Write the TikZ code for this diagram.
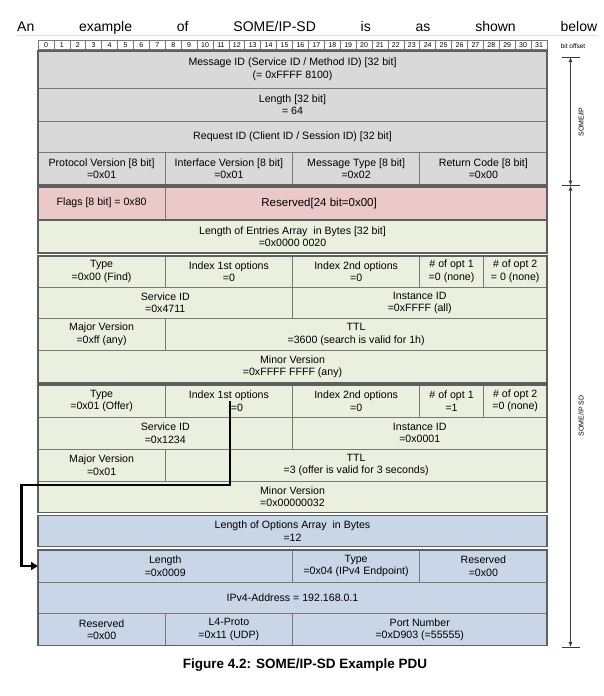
\documentclass[tikz,border=0pt]{standalone}
\usepackage{fontspec}
\setmainfont{Liberation Sans}
\usetikzlibrary{arrows.meta}
\definecolor{gfill}{RGB}{217,217,217}
\definecolor{pfill}{RGB}{236,201,201}
\definecolor{efill}{RGB}{235,240,222}
\definecolor{bfill}{RGB}{200,214,231}
\definecolor{cellline}{RGB}{120,120,120}
\definecolor{blockcol}{RGB}{95,95,95}
\definecolor{dimcol}{RGB}{60,60,60}
\tikzset{
  cellbase/.style={draw=cellline, line width=0.8pt, inner sep=0pt, outer sep=0pt,
    align=center, font=\fontsize{10.6}{12.5}\selectfont},
  bitcell/.style={draw=cellline, fill=white, line width=0.6pt, minimum width=15.906pt,
    minimum height=9.5pt, inner sep=0pt, outer sep=0pt, font=\fontsize{7}{8}\selectfont},
  blockline/.style={draw=blockcol, line width=1.4pt},
  linkarrow/.style={draw=black, line width=2.6pt, -{Triangle[length=7pt,width=8pt]}},
  dimline/.style={draw=dimcol, line width=0.8pt},
  dimarrow/.style={dimline, {Latex[length=5pt,width=4pt]}-{Latex[length=5pt,width=4pt]}},
  sidelabel/.style={rotate=90, inner sep=0pt, font=\fontsize{7}{8}\selectfont},
}
\newcommand\fcell[7]{\node[cellbase, fill=#6, minimum width={(#4-#2)*1pt},
  minimum height={(#5-#3)*1pt}] (#1) at ({(#2+#4)/2},{(#3+#5)/2}) {#7};}
\def\ca{38}\def\cb{165.25}\def\cc{292.5}\def\cd{419.75}\def\ce{483.4}\def\cf{547}
\begin{document}
\begin{tikzpicture}[x=1pt,y=-1pt]
\useasboundingbox (0,0) rectangle (604,696);
% intro line
\node[anchor=base west, inner sep=0pt, font=\fontsize{14}{16}\selectfont] (intro) at (17,31.5)
  {\hbox to 580pt{An\hfill example\hfill of\hfill SOME/IP-SD\hfill is\hfill as\hfill shown\hfill below}};
\draw[gray!25, line width=0.6pt] (17,35.5) -- (598,35.5);
% bit header
\foreach \i in {0,...,31}{
  \node[bitcell] (bit\i) at ({38+15.906*(\i+0.5)},44.75) {\i};
}
\node[inner sep=0pt, font=\fontsize{6.5}{7}\selectfont] (bitoff) at (573,46) {bit offset};
% SOME/IP header
\fcell{msgid}{\ca}{51}{\cf}{88}{gfill}{Message ID (Service ID / Method ID) [32 bit]\\(= 0xFFFF 8100)}
\fcell{length}{\ca}{88}{\cf}{121}{gfill}{Length [32 bit]\\= 64}
\fcell{reqid}{\ca}{121}{\cf}{152.5}{gfill}{Request ID (Client ID / Session ID) [32 bit]}
\fcell{protover}{\ca}{152.5}{\cb}{185}{gfill}{Protocol Version [8 bit]\\=0x01}
\fcell{ifver}{\cb}{152.5}{\cc}{185}{gfill}{Interface Version [8 bit]\\=0x01}
\fcell{msgtype}{\cc}{152.5}{\cd}{185}{gfill}{Message Type [8 bit]\\=0x02}
\fcell{retcode}{\cd}{152.5}{\cf}{185}{gfill}{Return Code [8 bit]\\=0x00}
\draw[blockline] (msgid.north west) rectangle (retcode.south east);
% flags
\fcell{flags}{\ca}{187}{\cb}{219.5}{pfill}{Flags [8 bit] = 0x80}
\fcell{sdres}{\cb}{187}{\cf}{219.5}{pfill}{{\fontsize{11.5}{13}\selectfont Reserved[24 bit=0x00]}\hspace*{74pt}}
\draw[blockline] (flags.north west) rectangle (sdres.south east);
% entries length
\fcell{entlen}{\ca}{220.5}{\cf}{253}{efill}{Length of Entries Array\ \ in Bytes [32 bit]\\=0x0000 0020}
\draw[blockline] (entlen.north west) rectangle (entlen.south east);
% entry 1
\fcell{e1type}{\ca}{256}{\cb}{287}{efill}{Type\\=0x00 (Find)}
\fcell{e1i1}{\cb}{256}{\cc}{287}{efill}{Index 1st options\\=0}
\fcell{e1i2}{\cc}{256}{\cd}{287}{efill}{Index 2nd options\\=0}
\fcell{e1n1}{\cd}{256}{\ce}{287}{efill}{\# of opt 1\\=0 (none)}
\fcell{e1n2}{\ce}{256}{\cf}{287}{efill}{\# of opt 2\\= 0 (none)}
\fcell{e1svc}{\ca}{287}{\cc}{318.5}{efill}{Service ID\\=0x4711}
\fcell{e1inst}{\cc}{287}{\cf}{318.5}{efill}{Instance ID\\=0xFFFF (all)}
\fcell{e1maj}{\ca}{318.5}{\cb}{350.5}{efill}{Major Version\\=0xff (any)}
\fcell{e1ttl}{\cb}{318.5}{\cf}{350.5}{efill}{TTL\\=3600 (search is valid for 1h)}
\fcell{e1min}{\ca}{350.5}{\cf}{383}{efill}{Minor Version\\=0xFFFF FFFF (any)}
\draw[blockline] (e1type.north west) rectangle (e1min.south east);
% entry 2
\fcell{e2type}{\ca}{385}{\cb}{417}{efill}{Type\\=0x01 (Offer)}
\fcell{e2i1}{\cb}{385}{\cc}{417}{efill}{Index 1st options\\\hspace*{16pt}=0}
\fcell{e2i2}{\cc}{385}{\cd}{417}{efill}{Index 2nd options\\=0}
\fcell{e2n1}{\cd}{385}{\ce}{417}{efill}{\# of opt 1\\=1}
\fcell{e2n2}{\ce}{385}{\cf}{417}{efill}{\# of opt 2\\=0 (none)}
\fcell{e2svc}{\ca}{417}{\cc}{449}{efill}{Service ID\\=0x1234}
\fcell{e2inst}{\cc}{417}{\cf}{449}{efill}{Instance ID\\=0x0001}
\fcell{e2maj}{\ca}{449}{\cb}{481}{efill}{Major Version\\=0x01}
\fcell{e2ttl}{\cb}{449}{\cf}{481}{efill}{TTL\\=3 (offer is valid for 3 seconds)}
\fcell{e2min}{\ca}{481}{\cf}{512.5}{efill}{Minor Version\\=0x00000032}
\draw[blockline] (e2type.north west) rectangle (e2min.south east);
% options length
\fcell{optlen}{\ca}{515.5}{\cf}{546.5}{bfill}{Length of Options Array\ \ in Bytes\\=12}
\draw[blockline] (optlen.north west) rectangle (optlen.south east);
% option
\fcell{oplen}{\ca}{550}{\cc}{582}{bfill}{Length\\=0x0009}
\fcell{optype}{\cc}{550}{\cd}{582}{bfill}{Type\\=0x04 (IPv4 Endpoint)}
\fcell{opres}{\cd}{550}{\cf}{582}{bfill}{Reserved\\=0x00}
\fcell{opaddr}{\ca}{582}{\cf}{613.5}{bfill}{IPv4-Address = 192.168.0.1}
\fcell{opres2}{\ca}{613.5}{\cb}{645.5}{bfill}{Reserved\\=0x00}
\fcell{opproto}{\cb}{613.5}{\cc}{645.5}{bfill}{L4-Proto\\=0x11 (UDP)}
\fcell{opport}{\cc}{613.5}{\cf}{645.5}{bfill}{Port Number\\=0xD903 (=55555)}
\draw[blockline] (oplen.north west) rectangle (opport.south east);
% link arrow
\coordinate (linkstart) at (230,401);
\coordinate (bend) at (21.5,485);
\draw[linkarrow] (linkstart) |- (bend) |- (oplen.west);
% dimension arrows
\coordinate (dimtop) at (570.5,57);
\coordinate (dimmid) at (570.5,185.5);
\coordinate (dimbot) at (570.5,647);
\draw[dimline] (dimtop) ++(-9,0) -- ++(18,0);
\draw[dimline] (dimmid) ++(-9,0) -- ++(18,0);
\draw[dimline] (dimbot) ++(-9,0) -- ++(18,0);
\draw[dimarrow] (dimtop) -- (dimmid);
\draw[dimarrow] (dimmid) -- (dimbot);
\node[sidelabel] (lblsomeip) at (581,122) {SOME/IP};
\node[sidelabel] (lblsd) at (581,416) {SOME/IP SD};
% caption
\node[anchor=base, inner sep=0pt, font=\bfseries\fontsize{13.5}{15}\selectfont] (caption) at (305,668)
  {Figure 4.2: SOME/IP-SD Example PDU};
\end{tikzpicture}
\end{document}
